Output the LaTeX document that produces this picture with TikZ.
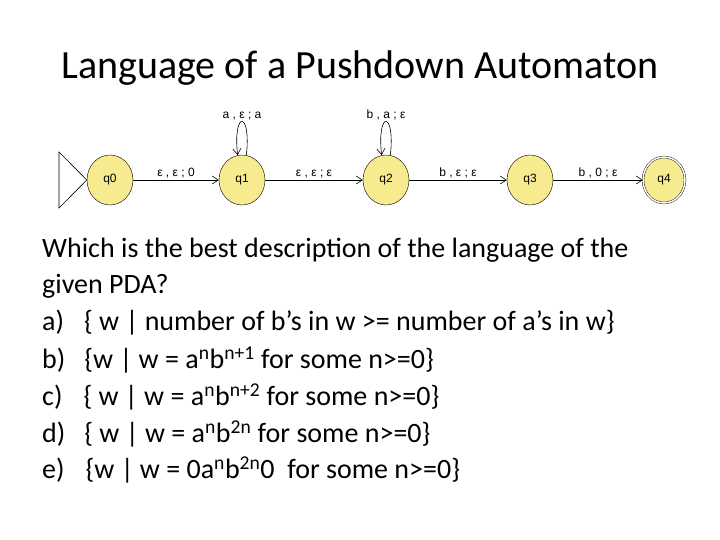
\documentclass[tikz,border=0pt]{standalone}
\usepackage{fontspec}
\setmainfont{Carlito}
\newfontfamily\autfont{Liberation Sans}
\usetikzlibrary{arrows.meta,shapes.geometric}
\definecolor{stfill}{HTML}{F7EB8F}
\begin{document}
\begin{tikzpicture}[x=1pt,y=-1pt,
  st/.style={ellipse,draw=black,fill=stfill,minimum width=46pt,minimum height=50pt,inner sep=0pt,font=\autfont\fontsize{12}{14}\selectfont},
  acc/.style={st,double,double distance=1.5pt,minimum width=42pt,minimum height=46pt},
  edge/.style={draw,-{Straight Barb[length=6pt,width=8pt]},line width=0.6pt},
  lab/.style={font=\autfont\fontsize{12}{14}\selectfont,inner sep=1.5pt},
  txt/.style={anchor=west,font=\fontsize{28}{32}\selectfont,inner sep=0pt}]
\useasboundingbox (0,0) rectangle (720,540);
\node[font=\fontsize{40}{46}\selectfont] (title) at (360,68) {Language of a Pushdown Automaton};
\node[st] (q0) at (110,180) {q0};
\node[st] (q1) at (242,180) {q1};
\node[st] (q2) at (386,180) {q2};
\node[st] (q3) at (530,180) {q3};
\node[acc] (q4) at (664,180) {q4};
\draw[line width=0.6pt] (q0.west) -- (59,152) -- (59,208) -- cycle;
\path[edge] (q0) -- node[lab,above,pos=0.5] {ε , ε ; 0} (q1);
\path[edge] (q1) -- node[lab,above] {ε , ε ; ε} (q2);
\path[edge] (q2) -- node[lab,above] {b , ε ; ε} (q3);
\path[edge] (q3) -- node[lab,above] {b , 0 ; ε} (q4);
\path[edge] (q1.80) .. controls +(5,-45) and +(-5,-45) .. node[lab,above] {a , ε ; a} (q1.100);
\path[edge] (q2.80) .. controls +(5,-45) and +(-5,-45) .. node[lab,above] {b , a ; ε} (q2.100);
\node[txt] (l1) at (42,250) {Which is the best description of the language of the};
\node[txt] (l2) at (42,286) {given PDA?};
\node[txt] (la) at (42,323) {a)\hspace{20pt}\{ w | number of b’s in w >= number of a’s in w\}};
\node[txt] (lb) at (42,360) {b)\hspace{19pt}\{w | w = a\textsuperscript{n}b\textsuperscript{n+1} for some n>=0\}};
\node[txt] (lc) at (42,397) {c)\hspace{21pt}\{ w | w = a\textsuperscript{n}b\textsuperscript{n+2} for some n>=0\}};
\node[txt] (ld) at (42,434) {d)\hspace{19pt}\{ w | w = a\textsuperscript{n}b\textsuperscript{2n} for some n>=0\}};
\node[txt] (le) at (42,470) {e)\hspace{21pt}\{w | w = 0a\textsuperscript{n}b\textsuperscript{2n}0\ \ for some n>=0\}};
\end{tikzpicture}
\end{document}
